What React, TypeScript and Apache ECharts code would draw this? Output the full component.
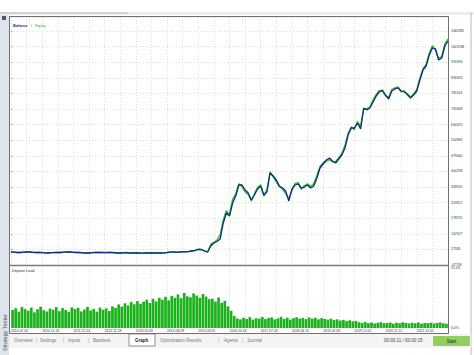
import React, { useEffect, useRef } from "react";
import * as echarts from "echarts";

const dateLabels = ["2010.02.03", "2010.12.24", "2011.12.14", "2012.11.28", "2013.10.09", "2014.08.28", "2015.08.25", "2016.10.03", "2017.07.26", "2018.04.15", "2019.02.08", "2019.12.05", "2020.11.11", "2021.10.01"];
const yTickLabels = ["-47758", "27585", "102927", "178270", "253612", "328955", "404298", "479640", "554983", "630325", "705668", "781010", "856353", "931696", "1007038", "1082381"];
const yMin = -47758;
const yStep = 75342.6;
const yMax = 1150000;
const loadTicks = [0, 25];

const balance = [
  15000, 14000, 12600, 12600, 14100, 15000, 15000, 13600, 12600, 13100,
  12100, 11200, 10200, 11700, 12600, 13600, 12600, 14100, 15000, 15000,
  13600, 12600, 12600, 11200, 10200, 10200, 11700, 12600, 12600, 13100,
  12100, 12600, 12600, 11700, 10200, 10200, 11200, 12100, 10200, 10200,
  11200, 10200, 9200, 10200, 10200, 11200, 10200, 10200, 10200, 11200,
  12600, 14100, 15000, 14100, 15000, 16000, 16000, 17400, 19900, 22300,
  27100, 27100, 19900, 15000, 44000, 58500, 65700, 77800, 155100, 203400,
  188900, 251700, 285500, 338600, 338600, 314500, 300000, 266200, 290300, 319300,
  333800, 290300, 304800, 396600, 382100, 362800, 333800, 324100, 309600, 261300,
  319300, 338600, 343500, 324100, 328900, 338600, 324100, 333800, 372400, 420700,
  440000, 459400, 469000, 454600, 444900, 464200, 483600, 517300, 580100, 613900,
  613900, 638100, 609100, 710500, 700900, 710500, 739500, 768500, 787800, 797400,
  773300, 754000, 792600, 802300, 807100, 792600, 787800, 778100, 758800, 773300,
  792600, 845700, 894000, 913300, 966500, 1000300, 995500, 942400, 952100, 1010000,
  1034100,
];

const equity = [
  15000, 14300, 12900, 12400, 14300, 15200, 14800, 13400, 12800, 13300,
  12300, 11000, 10000, 11900, 12800, 13400, 12400, 14300, 15200, 14800,
  13400, 12800, 12400, 11000, 10400, 10000, 11900, 12800, 12400, 13300,
  12300, 12400, 12800, 11500, 10400, 10000, 11400, 12300, 10000, 10400,
  11400, 10000, 9400, 10000, 10400, 11000, 10400, 10000, 10400, 11400,
  12800, 14300, 15200, 13900, 15200, 16200, 15800, 17800, 20500, 23000,
  28500, 26000, 19500, 15200, 52000, 62000, 72000, 98000, 170000, 215000,
  196000, 270000, 296000, 345000, 330000, 305000, 293000, 262000, 298000, 327000,
  340000, 285000, 318000, 402000, 378000, 352000, 330000, 318000, 298000, 272000,
  312000, 346000, 350000, 318000, 336000, 344000, 331000, 346000, 385000, 428000,
  446000, 452000, 462000, 450000, 452000, 470000, 492000, 530000, 588000, 620000,
  606000, 645000, 622000, 705000, 708000, 716000, 750000, 776000, 795000, 790000,
  768000, 762000, 800000, 808000, 812000, 788000, 794000, 772000, 764000, 780000,
  800000, 856000, 900000, 922000, 975000, 1012000, 990000, 950000, 960000, 1020000,
  1045000,
];

const depositLoad = [
  7.5, 8.2, 6.8, 8.8, 7.9, 7.2, 8.5, 6.5, 7.8, 8.9, 7.4, 6.9, 8.1, 7.6, 8.7, 7.0,
  8.3, 7.5, 6.7, 8.6, 7.9, 8.4, 6.9, 7.7, 8.8, 7.3, 8.0, 6.8, 8.5, 7.6, 8.2, 7.1,
  9.0, 8.4, 9.8, 8.9, 10.3, 9.4, 10.8, 9.9, 11.2, 10.1, 11.0, 11.8, 10.4, 12.2, 11.1, 12.6,
  11.8, 13.0, 11.5, 13.4, 12.6, 14.0, 12.4, 14.6, 13.2, 12.8, 14.4, 13.5, 12.6, 14.2, 13.1, 12.0,
  12.2, 11.0, 12.7, 10.5, 11.3, 9.0, 7.2, 5.0,
  4.0, 3.6, 4.3, 3.8, 4.5, 3.5, 4.1, 3.9, 4.6, 3.7, 4.2, 4.4, 3.6, 4.0, 4.7, 3.8, 4.3, 3.5, 4.1, 4.5, 3.9, 4.2, 3.7, 4.4,
  3.9, 4.3, 3.6, 4.1, 3.8, 3.5, 3.9, 3.3, 3.6, 3.1, 3.4, 2.9, 3.2, 2.8, 3.0,
  2.4, 2.1, 2.5, 2.0, 2.3, 1.9, 2.2, 2.4, 2.0, 2.1, 2.3, 1.8, 2.2, 2.0, 2.4, 2.1, 1.9, 2.2, 2.0, 2.3,
  1.8, 2.1, 2.0, 2.2, 1.9, 2.1, 2.3, 2.0, 1.8,
];

const tabs = [
  { t: "Overview", x: 14 }, { t: "|", x: 36 }, { t: "Settings", x: 40 }, { t: "|", x: 63 },
  { t: "Inputs", x: 68 }, { t: "|", x: 88 }, { t: "Backtest", x: 93 }, { t: "Graph", x: 135 },
  { t: "Optimization Results", x: 160 }, { t: "|", x: 218 }, { t: "Agents", x: 224 }, { t: "|", x: 242 },
  { t: "Journal", x: 247 },
];

const FONT = "'Liberation Sans', Arial, sans-serif";

export default function App() {
  const ref = useRef<HTMLDivElement>(null);
  useEffect(() => {
    if (!ref.current) return;
    const chart = echarts.init(ref.current, null, { renderer: "svg" });
    const N = balance.length - 1;
    const gridLine = { show: true, lineStyle: { color: "#d4d4d4", type: [1, 2] as any, width: 0.8 } };
    const labelStyle = { fontFamily: FONT, fontSize: 3.4, color: "#333" };
    const graphic: any[] = [
      { type: "rect", shape: { x: 0, y: 12, width: 474, height: 3 }, style: { fill: "#ececec" }, silent: true },
      { type: "rect", shape: { x: 0, y: 12, width: 128, height: 2 }, style: { fill: "#d2d2d2" }, silent: true },
      { type: "rect", shape: { x: 0, y: 15, width: 9, height: 340 }, style: { fill: "#dde4ec" }, silent: true },
      { type: "rect", shape: { x: 2, y: 16, width: 4, height: 4 }, style: { fill: "#555" }, silent: true },
      {
        type: "text", x: 5, y: 351, rotation: Math.PI / 2,
        style: { text: "Strategy Tester", fontFamily: FONT, fontSize: 5.5, fill: "#555", align: "left", verticalAlign: "middle" },
      },
      { type: "rect", shape: { x: 9.5, y: 16.5, width: 439, height: 317 }, style: { fill: "none", stroke: "#707070", lineWidth: 1 }, z: 10 },
      { type: "line", shape: { x1: 9, y1: 265.5, x2: 449, y2: 265.5 }, style: { stroke: "#7a7a7a", lineWidth: 1.5 }, z: 10 },
      { type: "line", shape: { x1: 471, y1: 12, x2: 471, y2: 355 }, style: { stroke: "#cfcfcf", lineWidth: 1.5 } },
      {
        type: "text", x: 13, y: 20,
        style: {
          text: "{b|Balance} {s|/} {g|Equity}",
          rich: {
            b: { fill: "#1a2a8a", fontSize: 3.8, fontFamily: FONT, fontWeight: "bold" },
            s: { fill: "#555", fontSize: 3.8, fontFamily: FONT },
            g: { fill: "#22b422", fontSize: 3.8, fontFamily: FONT },
          },
          verticalAlign: "top",
        },
        z: 11,
      },
      {
        type: "text", x: 12, y: 268.5,
        style: { text: "Deposit Load", fontFamily: FONT, fontSize: 3.8, fill: "#333", verticalAlign: "top" },
        z: 11,
      },
      { type: "rect", shape: { x: 9, y: 334, width: 462, height: 14 }, style: { fill: "#f4f4f4" } },
      { type: "rect", shape: { x: 129, y: 334, width: 26, height: 12 }, style: { fill: "#ffffff", stroke: "#7a7a7a", lineWidth: 0.8 } },
      ...tabs.map((tb) => ({
        type: "text", x: tb.x, y: 340,
        style: {
          text: tb.t, fontFamily: FONT, fontSize: 4.5,
          fill: tb.t === "Graph" ? "#222" : tb.t === "|" ? "#999" : "#777",
          fontWeight: tb.t === "Graph" ? "bold" : "normal",
          verticalAlign: "middle",
        },
      })),
      {
        type: "text", x: 384, y: 340,
        style: { text: "00:00:11 / 00:00:15", fontFamily: FONT, fontSize: 4.5, fill: "#444", verticalAlign: "middle" },
      },
      { type: "rect", shape: { x: 433, y: 336, width: 37, height: 10 }, style: { fill: "#8fd05e" } },
      {
        type: "text", x: 451.5, y: 341,
        style: { text: "Start", fontFamily: FONT, fontSize: 4.5, fill: "#222", align: "center", verticalAlign: "middle" },
      },
    ];

    chart.setOption({
      animation: false,
      backgroundColor: "#ffffff",
      grid: [
        { left: 11, top: 17, width: 437, height: 248 },
        { left: 11, top: 268, width: 437, height: 60 },
      ],
      xAxis: [
        {
          type: "value", gridIndex: 0, min: 0, max: N, interval: 5,
          axisLabel: { show: false }, axisLine: { show: false }, axisTick: { show: false },
          splitLine: gridLine,
        },
        {
          type: "value", gridIndex: 1, min: 0, max: N, interval: 5,
          axisLine: { show: false }, axisTick: { show: false },
          splitLine: gridLine,
          axisLabel: {
            ...labelStyle, align: "left", margin: 1.5, showMaxLabel: false,
            formatter: (v: number) => (v % 10 === 0 && v / 10 < dateLabels.length ? dateLabels[v / 10] : ""),
          },
        },
      ],
      yAxis: [
        {
          type: "value", gridIndex: 0, position: "right", min: yMin, max: yMax, interval: yStep,
          axisLine: { show: false },
          axisTick: { show: true, length: 1.5, lineStyle: { color: "#777", width: 0.6 } },
          splitLine: gridLine,
          axisLabel: {
            ...labelStyle, margin: 3, showMaxLabel: false,
            formatter: (v: number) => {
              const k = Math.round((v - yMin) / yStep);
              if (Math.abs(v - (yMin + k * yStep)) > 1 || k < 0 || k >= yTickLabels.length) return "";
              return yTickLabels[k];
            },
          },
        },
        {
          type: "value", gridIndex: 1, position: "right", min: loadTicks[0], max: loadTicks[1], interval: 25,
          axisLine: { show: false }, axisTick: { show: false }, splitLine: { show: false },
          axisLabel: { ...labelStyle, margin: 3, formatter: (v: number) => v.toFixed(1) + "%" },
        },
      ],
      series: [
        {
          type: "line", name: "Equity", xAxisIndex: 0, yAxisIndex: 0, symbol: "none",
          data: equity.map((v, i) => [i, v]),
          lineStyle: { color: "#2fbf2f", width: 1.4 }, z: 2,
        },
        {
          type: "line", name: "Balance", xAxisIndex: 0, yAxisIndex: 0, symbol: "none",
          data: balance.map((v, i) => [i, v]),
          lineStyle: { color: "#102a86", width: 1.3 }, z: 3,
        },
        {
          type: "bar", name: "Deposit Load", xAxisIndex: 1, yAxisIndex: 1,
          data: depositLoad.map((v, i) => [i + 0.5, v]),
          barWidth: 2.7, itemStyle: { color: "#1cb21c" },
        },
      ],
      graphic,
    });
    return () => chart.dispose();
  }, []);
  return (
    <div
      ref={ref}
      style={{ position: "fixed", left: 0, top: 0, width: 474, height: 355, background: "#fff" }}
    />
  );
}
